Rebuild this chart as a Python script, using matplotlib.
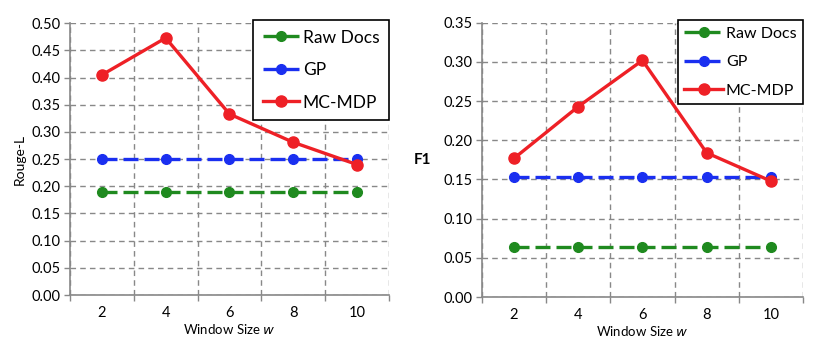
import matplotlib
matplotlib.use("Agg")
import matplotlib.pyplot as plt
from matplotlib.ticker import FixedLocator
import numpy as np

categories = ["2", "4", "6", "8", "10"]
series_names = ["Raw Docs", "GP", "MC-MDP"]

rouge_raw = [0.19, 0.19, 0.19, 0.19, 0.19]
rouge_gp = [0.251, 0.251, 0.251, 0.251, 0.251]
rouge_mc = [0.405, 0.473, 0.333, 0.281, 0.240]

f1_raw = [0.064, 0.064, 0.064, 0.064, 0.064]
f1_gp = [0.153, 0.153, 0.153, 0.153, 0.153]
f1_mc = [0.177, 0.243, 0.302, 0.184, 0.148]

colors = ["#1f8a1f", "#1a2ff0", "#ee2026"]
font = ["Lato", "DejaVu Sans"]
plt.rcParams['font.family'] = font

fig = plt.figure(figsize=(8.35, 3.45), dpi=100)
ax1 = fig.add_axes([0.0838, 0.1449, 0.382, 0.7876])
ax2 = fig.add_axes([0.5772, 0.1391, 0.3844, 0.7950])

def draw(ax, raw, gp, mc, ymax, ystep, leg_rect, leg_fs, leg_sp, leg_bp, leg_hl):
    x = list(range(1, len(categories) + 1))
    dash = (0, (4.5, 1.8))
    ax.plot(x, raw, color=colors[0], lw=2.4, ls=dash, marker='o', ms=7, label=series_names[0], zorder=3)
    ax.plot(x, gp, color=colors[1], lw=2.4, ls=dash, marker='o', ms=7, label=series_names[1], zorder=3)
    ax.plot(x, mc, color=colors[2], lw=2.4, ls='-', marker='o', ms=8, label=series_names[2], zorder=4)
    ax.set_xlim(0.5, len(categories) + 0.5)
    ax.set_ylim(0, ymax)
    ax.set_xticks(x)
    ax.set_xticklabels(categories, fontsize=10.5)
    ax.xaxis.set_minor_locator(FixedLocator([i + 0.5 for i in range(0, len(categories) + 1)]))
    ax.tick_params(axis='x', which='major', length=0, pad=8)
    ax.tick_params(axis='x', which='minor', length=4, color='#888888', width=1)
    yt = np.round(np.arange(0, ymax + 1e-9, ystep), 2)
    ax.set_yticks(yt)
    ax.set_yticklabels([f"{v:.2f}" for v in yt], fontsize=10.5)
    ax.tick_params(axis='y', length=4, color='#888888', width=1, pad=3)
    ax.grid(True, axis='y', which='major', color='#888888', ls=(0, (4, 3)), lw=1)
    ax.grid(True, axis='x', which='minor', color='#888888', ls=(0, (4, 3)), lw=1)
    for s in ['top', 'right']:
        ax.spines[s].set_visible(False)
    for s in ['left', 'bottom']:
        ax.spines[s].set_color('#888888')
        ax.spines[s].set_linewidth(1.2)
    ax.set_axisbelow(True)
    ax.set_xlabel("Window Size $\\mathit{w}$", fontsize=9.5, labelpad=1)
    leg = ax.legend(loc='upper right', bbox_to_anchor=leg_rect, borderaxespad=0,
                    fancybox=False, framealpha=1, edgecolor='black', fontsize=leg_fs,
                    handlelength=leg_hl, handletextpad=0.2, labelspacing=leg_sp,
                    borderpad=leg_bp)
    leg.get_frame().set_linewidth(1.2)
    leg.set_zorder(10)

draw(ax1, rouge_raw, rouge_gp, rouge_mc, 0.5, 0.05, (1.0, 1.012), 12.5, 0.95, 0.55, 2.1)
draw(ax2, f1_raw, f1_gp, f1_mc, 0.35, 0.05, (1.0, 1.01), 11.5, 0.9, 0.4, 2.4)
ax1.set_ylabel("Rouge-L", fontsize=10, labelpad=4)
fig.text(0.506, 0.535, "F1", fontsize=11, fontweight='bold', ha='center', va='center')

fig.savefig("out.png", dpi=100, facecolor='white')
